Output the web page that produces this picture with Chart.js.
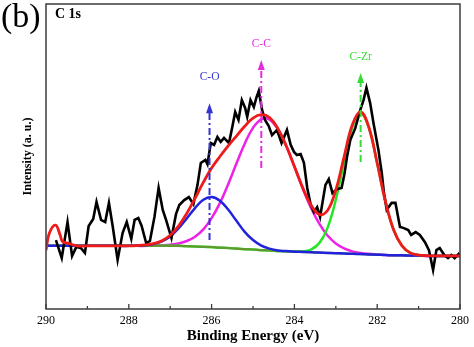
<!DOCTYPE html>
<html>
<head>
<meta charset="utf-8">
<script src="https://cdn.jsdelivr.net/npm/chart.js@4/dist/chart.umd.min.js"></script>
<style>
  html, body { margin: 0; padding: 0; background: #fff; }
  canvas { display: block; }
</style>
</head>
<body>
<canvas id="c1s" width="474" height="347"></canvas>
<script>
// C 1s core-level spectrum: binding energy (eV) vs intensity (a. u.)
const rawEnergy = [289.76, 289.62, 289.48, 289.37, 289.27, 289.16, 289.06, 288.97, 288.86, 288.78,
  288.67, 288.57, 288.48, 288.39, 288.27, 288.15, 288.05, 287.94, 287.86, 287.77,
  287.69, 287.58, 287.49, 287.38, 287.28, 287.18, 287.10, 286.97, 286.86, 286.78,
  286.66, 286.55, 286.44, 286.34, 286.26, 286.15, 286.10, 286.02, 285.94, 285.86,
  285.78, 285.70, 285.58, 285.50, 285.43, 285.35, 285.27, 285.19, 285.14, 285.06,
  284.98, 284.92, 284.86, 284.78, 284.71, 284.62, 284.54, 284.42, 284.31, 284.18,
  284.09, 284.01, 283.94, 283.85, 283.77, 283.69, 283.61, 283.53, 283.45, 283.38,
  283.25, 283.17, 283.08, 282.97, 282.86, 282.79, 282.73, 282.65, 282.53, 282.41,
  282.33, 282.26, 282.17, 282.09, 281.97, 281.89, 281.84, 281.77, 281.65, 281.56,
  281.45, 281.37, 281.25, 281.18, 281.07, 280.97, 280.85, 280.75, 280.65, 280.57,
  280.49, 280.38, 280.29, 280.21, 280.13, 280.01];
const rawIntensity = [22.6, 16.7, 28.5, 17.4, 20.3, 20.0, 18.4, 27.2, 29.5, 35.1,
  29.2, 28.5, 34.8, 27.2, 16.1, 24.9, 28.5, 23.0, 29.2, 29.8,
  27.2, 21.6, 22.3, 30.2, 39.7, 32.5, 29.2, 23.3, 31.1, 34.1,
  35.7, 36.7, 34.4, 40.7, 47.9, 48.9, 47.5, 54.4, 53.8, 56.4,
  54.8, 56.1, 54.4, 59.7, 64.6, 62.0, 68.5, 65.9, 63.0, 68.5,
  66.2, 69.2, 71.5, 65.2, 62.0, 60.0, 57.0, 58.7, 54.4, 58.7,
  53.8, 51.5, 50.5, 50.8, 47.9, 39.7, 34.4, 31.8, 33.4, 30.2,
  40.7, 42.6, 38.0, 39.3, 39.7, 44.3, 49.8, 55.4, 59.3, 65.2,
  68.5, 72.5, 67.5, 61.0, 52.1, 44.6, 38.4, 32.5, 34.8, 34.8,
  26.9, 26.6, 25.9, 24.3, 25.2, 24.3, 22.0, 19.3, 12.8, 19.3,
  20.0, 17.7, 16.7, 17.7, 16.7, 18.4];

// Fitted components share one energy grid
const fitEnergy = [290.0, 289.8, 289.6, 289.4, 289.2, 289.0, 288.8, 288.6, 288.4, 288.2,
  288.0, 287.8, 287.6, 287.4, 287.2, 287.0, 286.8, 286.6, 286.4, 286.2,
  286.0, 285.8, 285.6, 285.4, 285.2, 285.0, 284.8, 284.6, 284.4, 284.2,
  284.0, 283.8, 283.6, 283.4, 283.2, 283.0, 282.8, 282.6, 282.4, 282.2,
  282.0, 281.8, 281.6, 281.4, 281.2, 281.0, 280.8, 280.6, 280.4, 280.2, 280.0];
const backgroundCurve = [20.7, 20.7, 20.7, 20.7, 20.7, 20.7, 20.7, 20.7, 20.7, 20.7,
  20.7, 20.7, 20.7, 20.7, 20.7, 20.7, 20.7, 20.6, 20.5, 20.4,
  20.3, 20.1, 20.0, 19.8, 19.6, 19.5, 19.3, 19.2, 19.0, 18.9,
  18.8, 18.7, 18.6, 18.5, 18.4, 18.3, 18.2, 18.1, 18.0, 17.9,
  17.8, 17.7, 17.6, 17.6, 17.5, 17.5, 17.4, 17.4, 17.4, 17.4, 17.4];
const peakCO = [20.7, 20.7, 20.7, 20.7, 20.7, 20.7, 20.7, 20.7, 20.7, 20.7,
  20.7, 20.8, 20.9, 21.3, 22.2, 23.8, 26.4, 29.7, 33.1, 35.8,
  36.7, 35.5, 32.6, 28.9, 25.3, 22.6, 20.8, 19.8, 19.2, 19.0,
  18.8, 18.7, 18.6, 18.5, 18.4, 18.3, 18.2, 18.1, 18.0, 17.9,
  17.8, 17.7, 17.6, 17.6, 17.5, 17.5, 17.4, 17.4, 17.4, 17.4, 17.4];
const peakCC = [20.7, 20.7, 20.7, 20.7, 20.7, 20.7, 20.7, 20.7, 20.7, 20.7,
  20.7, 20.7, 20.7, 20.8, 20.9, 21.1, 21.5, 22.3, 23.7, 26.1,
  29.8, 34.7, 40.9, 47.7, 54.2, 59.4, 62.2, 62.1, 58.9, 53.5,
  46.7, 39.6, 33.2, 28.0, 24.1, 21.5, 19.9, 18.9, 18.4, 18.1,
  17.9, 17.7, 17.6, 17.6, 17.5, 17.5, 17.4, 17.4, 17.4, 17.4, 17.4];
const peakCZr = [20.7, 20.7, 20.7, 20.7, 20.7, 20.7, 20.7, 20.7, 20.7, 20.7,
  20.7, 20.7, 20.7, 20.7, 20.7, 20.7, 20.7, 20.6, 20.5, 20.4,
  20.3, 20.1, 20.0, 19.8, 19.6, 19.5, 19.3, 19.2, 19.0, 18.9,
  18.9, 18.9, 19.5, 21.6, 26.6, 35.8, 48.2, 59.6, 64.2, 59.4,
  47.8, 35.2, 25.8, 20.7, 18.4, 17.7, 17.5, 17.4, 17.4, 17.4, 17.4];

// Cumulative fit envelope
const envelopeEnergy = [290.0, 289.92, 289.77, 289.66, 289.6, 289.45, 289.25,
  289.0, 288.8, 288.6, 288.4, 288.2, 288.0, 287.8, 287.6, 287.4, 287.2,
  287.0, 286.8, 286.6, 286.4, 286.2, 286.0, 285.8, 285.6, 285.4, 285.2,
  285.0, 284.8, 284.6, 284.4, 284.2, 284.0, 283.8, 283.6, 283.4, 283.2,
  283.0, 282.8, 282.6, 282.4, 282.2, 282.0, 281.8, 281.6, 281.4, 281.2,
  281.0, 280.8, 280.6, 280.4, 280.2, 280.0];
const envelopeCurve = [19.3, 24.8, 27.5, 24.3, 22.1, 21.5, 20.7,
  20.7, 20.7, 20.7, 20.7, 20.7, 20.7, 20.8, 21.0, 21.4, 22.4,
  24.2, 27.2, 31.3, 36.3, 41.5, 46.2, 50.0, 53.5, 56.7, 59.9,
  62.6, 63.7, 62.8, 59.2, 53.6, 46.7, 39.8, 34.1, 31.0, 32.3,
  39.0, 49.9, 60.4, 64.6, 59.5, 47.8, 35.2, 25.8, 20.7, 18.4,
  17.7, 17.5, 17.4, 17.4, 17.4, 17.4];

// Peak assignments and their marker arrows (intensity units)
const peakLabels = ['C-O', 'C-C', 'C-Zr'];
const peakMarkEnergy = [286.05, 284.8, 282.4];
const peakMarkFrom = [22.6, 46.2, 48.2];
const peakMarkTo = [67.5, 81.6, 77.4];
const peakLabelAt = [76.1, 86.9, 82.6];
const xTickValues = [290, 288, 286, 284, 282, 280];

const COLORS = {
  raw: '#000000',
  envelope: '#ee1b1b',
  co: '#2222dd',
  cc: '#ee22e6',
  czr: '#22e622',
  background: '#5f9a2c'
};
const markColors = ['#3434d0', '#e22ee0', '#36dc36'];
const SERIF = '"Liberation Serif", "Times New Roman", serif';

const pts = (xs, ys) => xs.map((e, i) => ({ x: e, y: ys[i] }));

const line = (label, xs, ys, color, width, tension) => ({
  label,
  data: pts(xs, ys),
  borderColor: color,
  backgroundColor: color,
  borderWidth: width,
  pointRadius: 0,
  tension,
  fill: false
});

const decorations = {
  id: 'decorations',
  afterDatasetsDraw(chart) {
    const { ctx, chartArea: a, scales: { x, y } } = chart;
    ctx.save();

    // dash-dot arrows marking each component
    peakLabels.forEach((label, i) => {
      const px = x.getPixelForValue(peakMarkEnergy[i]);
      const y0 = y.getPixelForValue(peakMarkFrom[i]);
      const y1 = y.getPixelForValue(peakMarkTo[i]);
      ctx.strokeStyle = markColors[i];
      ctx.fillStyle = markColors[i];
      ctx.lineWidth = 2;
      ctx.setLineDash([7, 3, 2, 3]);
      ctx.beginPath();
      ctx.moveTo(px, y0);
      ctx.lineTo(px, y1 + 8);
      ctx.stroke();
      ctx.setLineDash([]);
      ctx.beginPath();
      ctx.moveTo(px, y1);
      ctx.lineTo(px - 3.5, y1 + 10);
      ctx.lineTo(px + 3.5, y1 + 10);
      ctx.closePath();
      ctx.fill();
      ctx.font = '11.5px ' + SERIF;
      ctx.textAlign = 'center';
      ctx.textBaseline = 'middle';
      ctx.fillText(label, px, y.getPixelForValue(peakLabelAt[i]));
    });

    // boxed frame
    ctx.strokeStyle = '#3c3c3c';
    ctx.lineWidth = 1.5;
    ctx.strokeRect(a.left, a.top, a.right - a.left, a.bottom - a.top);

    // inward ticks on the energy axis (major every 2 eV, minor in between)
    ctx.lineWidth = 1.3;
    for (let v = 280; v <= 290; v++) {
      const px = x.getPixelForValue(v);
      const len = v % 2 === 0 ? 5 : 3;
      ctx.beginPath();
      ctx.moveTo(px, a.bottom);
      ctx.lineTo(px, a.bottom - len);
      ctx.stroke();
    }

    // panel tag and core level
    ctx.fillStyle = '#000';
    ctx.textAlign = 'left';
    ctx.textBaseline = 'alphabetic';
    ctx.font = '34px ' + SERIF;
    ctx.fillText('(b)', 1, 27);
    ctx.font = 'bold 14px ' + SERIF;
    ctx.fillText('C 1s', 55, 18);
    ctx.restore();
  }
};

new Chart(document.getElementById('c1s'), {
  type: 'line',
  data: {
    datasets: [
      line('Fit', envelopeEnergy, envelopeCurve, COLORS.envelope, 2.8, 0.4),
      line('Raw', rawEnergy, rawIntensity, COLORS.raw, 2.6, 0),
      line('C-O', fitEnergy, peakCO, COLORS.co, 2.5, 0.4),
      line('Background', fitEnergy, backgroundCurve, COLORS.background, 2.2, 0.4),
      line('C-Zr', fitEnergy, peakCZr, COLORS.czr, 2.5, 0.4),
      line('C-C', fitEnergy, peakCC, COLORS.cc, 2.5, 0.4)
    ]
  },
  options: {
    responsive: false,
    animation: false,
    events: [],
    layout: { padding: { left: 0, right: 11, top: 4, bottom: 0 } },
    plugins: { legend: { display: false }, tooltip: { enabled: false } },
    scales: {
      x: {
        type: 'linear',
        reverse: true,
        min: 280,
        max: 290,
        grid: { display: false, drawTicks: false },
        border: { display: false },
        afterBuildTicks: s => { s.ticks = xTickValues.map(v => ({ value: v })); },
        afterFit: s => { s.height = 38; },
        ticks: {
          color: '#000',
          padding: 5,
          maxRotation: 0,
          autoSkip: false,
          font: { family: SERIF, size: 12 },
          callback: v => String(v)
        },
        title: {
          display: true,
          text: 'Binding Energy (eV)',
          color: '#000',
          font: { family: SERIF, size: 15, weight: 'bold' },
          padding: { top: 0, bottom: 2 }
        }
      },
      y: {
        min: 0,
        max: 100,
        grid: { display: false, drawTicks: false },
        border: { display: false },
        ticks: { display: false },
        afterFit: s => { s.width = 46; },
        title: {
          display: true,
          text: 'Intensity (a. u.)',
          color: '#000',
          font: { family: SERIF, size: 12, weight: 'bold' },
          padding: { top: 21, bottom: 0 }
        }
      }
    }
  },
  plugins: [decorations]
});
</script>
</body>
</html>
